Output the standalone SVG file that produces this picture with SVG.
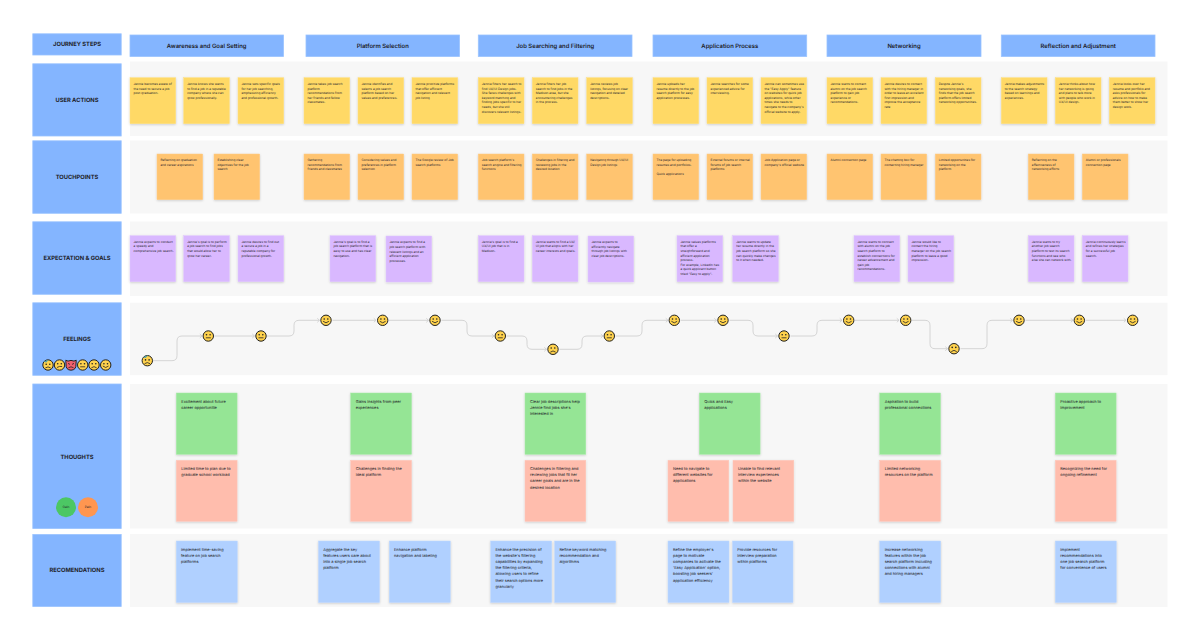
<svg xmlns="http://www.w3.org/2000/svg" width="1200" height="639" viewBox="0 0 1200 639">
<style>
text{font-family:"Inter","Liberation Sans",sans-serif;fill:#1e1e2a;text-rendering:geometricPrecision}
.lab{fill:#84B5FF;stroke:#9AC3FF;stroke-width:.8}
.row{fill:#F7F7F7}
.hd{font-size:5.9px;font-weight:600;text-anchor:middle}
.lt{font-size:5.75px;font-weight:700;text-anchor:middle}
.s{filter:url(#sh);stroke-width:.5}
.y{fill:#FFD966;stroke:#FFDF80}
.o{fill:#FFC470;stroke:#FFCC85}
.p{fill:#D9B8FF;stroke:#E0C5FF}
.g{fill:#95E595;stroke:#A8EBA8}
.r{fill:#FFBDAD;stroke:#FFC8BB}
.b{fill:#B0D0FF;stroke:#BDD8FF}
.t{font-size:3.15px}
.u{font-size:3.95px}
.c{font-size:3.2px;text-anchor:middle}
.cn path{fill:none;stroke:#CCCCCC;stroke-width:.8;marker-end:url(#ah)}
.f{fill:#FFD24D;stroke:#222;stroke-width:1}
.m{fill:none;stroke:#222;stroke-width:.8}
.e{fill:#222}
</style>
<defs>
<filter id="sh" x="-15%" y="-15%" width="130%" height="135%"><feDropShadow dx="0" dy="0.8" stdDeviation="0.9" flood-color="#000" flood-opacity="0.18"/></filter>
<marker id="ah" markerUnits="userSpaceOnUse" markerWidth="5" markerHeight="6" refX="3.2" refY="3" orient="auto"><path d="M1 1 L3.2 3 L1 5" fill="none" stroke="#CCCCCC" stroke-width=".8"/></marker>
<g id="happy"><circle class="f" r="5.2"/><circle class="e" cx="-1.8" cy="-1.3" r=".8"/><circle class="e" cx="1.8" cy="-1.3" r=".8"/><path class="m" d="M-2.9 1 Q0 4 2.9 1"/></g>
<g id="neutral"><circle class="f" r="5.2"/><circle class="e" cx="-1.8" cy="-1.3" r=".8"/><circle class="e" cx="1.8" cy="-1.3" r=".8"/><path class="m" d="M-2.5 1.8 H2.5"/></g>
<g id="sad"><circle class="f" r="5.2"/><circle class="e" cx="-1.8" cy="-1.3" r=".8"/><circle class="e" cx="1.8" cy="-1.3" r=".8"/><path class="m" d="M-2.7 2.9 Q0 .4 2.7 2.9"/></g>
<g id="worried"><circle class="f" r="5.2"/><circle class="e" cx="-1.8" cy="-.8" r=".8"/><circle class="e" cx="1.8" cy="-.8" r=".8"/><path class="m" d="M-2.7 3 Q0 .8 2.7 3"/><path d="M-4 -3.2 Q-1.5 -5.6 .6 -5 L-1.8 -2.6 Z" fill="#4FA3A8"/></g>
<g id="confused"><circle class="f" r="5.2"/><circle class="e" cx="-1.8" cy="-1.3" r=".8"/><circle class="e" cx="1.8" cy="-1.3" r=".8"/><path class="m" d="M-2.5 2.5 Q0 .9 2.6 1.5"/></g>
<g id="devil"><path class="f" style="fill:#F2606E" d="M-5.2 -4.8 L-3 -3.9 Q0 -5.3 3 -3.9 L5.2 -4.8 L5 -1 Q5.4 5 0 5.2 Q-5.4 5 -5 -1 Z"/><path class="m" d="M-3 -1.6 L-1 -.6 M3 -1.6 L1 -.6 M-2.6 2.8 Q0 .8 2.6 2.8"/></g>
</defs>
<rect width="1200" height="639" fill="#FFFFFF"/>
<g id="rows">
<rect class="row" x="130" y="61.5" width="1037.5" height="74.5"/>
<rect class="row" x="130" y="140.5" width="1037.5" height="73"/>
<rect class="row" x="130" y="221.5" width="1037.5" height="74.5"/>
<rect class="row" x="130" y="302.7" width="1037.5" height="72.5"/>
<rect class="row" x="130" y="384" width="1037.5" height="144.5"/>
<rect class="row" x="130" y="534" width="1037.5" height="73"/>
</g>
<g id="label-journey"><rect class="lab" x="32.8" y="33.8" width="88.4" height="21.2"/><text class="lt" x="77" y="46.4">JOURNEY STEPS</text></g>
<g id="label-actions"><rect class="lab" x="32.8" y="63.8" width="88.4" height="72.2"/><text class="lt" x="77" y="102">USER ACTIONS</text></g>
<g id="label-touch"><rect class="lab" x="32.8" y="140.8" width="88.4" height="72.5"/><text class="lt" x="77" y="179">TOUCHPOINTS</text></g>
<g id="label-expect"><rect class="lab" x="32.8" y="221.8" width="88.4" height="72.5"/><text class="lt" x="77" y="260">EXPECTATION &amp; GOALS</text></g>
<g id="label-feelings"><rect class="lab" x="32.8" y="302.8" width="88.4" height="72.5"/><text class="lt" x="77" y="341">FEELINGS</text>
<use href="#worried" x="48" y="365"/><use href="#confused" x="59.5" y="365"/><use href="#devil" x="71" y="365"/><use href="#neutral" x="82.7" y="365"/><use href="#sad" x="94" y="365"/><use href="#happy" x="105.7" y="365"/></g>
<g id="label-thoughts"><rect class="lab" x="32.8" y="384" width="88.4" height="144.5"/><text class="lt" x="77" y="458.6">THOUGHTS</text></g>
<g id="legend-gain"><circle cx="66" cy="507.3" r="10" fill="#4CC764"/><text class="c" x="66" y="508.4">Gain</text></g>
<g id="legend-pain"><circle cx="88" cy="507.3" r="10" fill="#FF9650"/><text class="c" x="88" y="508.4">Pain</text></g>
<g id="label-recs"><rect class="lab" x="32.8" y="534.5" width="88.4" height="72"/><text class="lt" x="77" y="572">RECOMENDATIONS</text></g>
<g id="step-1"><rect class="lab" x="130" y="35" width="153.5" height="21.5"/><text class="hd" x="206.7" y="48">Awareness and Goal Setting</text></g>
<g id="step-2"><rect class="lab" x="306" y="35" width="153.5" height="21.5"/><text class="hd" x="382.7" y="48">Platform Selection</text></g>
<g id="step-3"><rect class="lab" x="478.3" y="35" width="153.7" height="21.5"/><text class="hd" x="555.2" y="48">Job Searching and Filtering</text></g>
<g id="step-4"><rect class="lab" x="653" y="35" width="153.7" height="21.5"/><text class="hd" x="729.8" y="48">Application Process</text></g>
<g id="step-5"><rect class="lab" x="827" y="35" width="154" height="21.5"/><text class="hd" x="904" y="48">Networking</text></g>
<g id="step-6"><rect class="lab" x="1001.3" y="35" width="153.7" height="21.5"/><text class="hd" x="1078.2" y="48">Reflection and Adjustment</text></g>

<g id="action-1"><rect class="s y" x="130" y="77.7" width="45.7" height="46"/><text class="t" x="133.5" y="85">Jennie becomes aware of<tspan x="133.5" dy="4.6">the need to secure a job</tspan><tspan x="133.5" dy="4.6">post-graduation.</tspan></text></g>
<g id="action-2"><rect class="s y" x="183.7" y="77.7" width="45.7" height="46"/><text class="t" x="187.2" y="85">Jennie knows she wants<tspan x="187.2" dy="4.6">to find a job in a reputable</tspan><tspan x="187.2" dy="4.6">company where she can</tspan><tspan x="187.2" dy="4.6">grow professionally.</tspan></text></g>
<g id="action-3"><rect class="s y" x="238" y="77.7" width="45.7" height="46"/><text class="t" x="241.5" y="85">Jennie sets specific goals<tspan x="241.5" dy="4.6">for her job searching,</tspan><tspan x="241.5" dy="4.6">emphasizing efficiency</tspan><tspan x="241.5" dy="4.6">and professional growth.</tspan></text></g>
<g id="action-4"><rect class="s y" x="304" y="77.7" width="45.7" height="46"/><text class="t" x="307.5" y="85">Jennie takes job search<tspan x="307.5" dy="4.6">platform</tspan><tspan x="307.5" dy="4.6">recommendations from</tspan><tspan x="307.5" dy="4.6">her friends and fellow</tspan><tspan x="307.5" dy="4.6">classmates.</tspan></text></g>
<g id="action-5"><rect class="s y" x="358" y="77.7" width="45.7" height="46"/><text class="t" x="361.5" y="85">Jennie identifies and<tspan x="361.5" dy="4.6">selects a job search</tspan><tspan x="361.5" dy="4.6">platform based on her</tspan><tspan x="361.5" dy="4.6">values and preferences.</tspan></text></g>
<g id="action-6"><rect class="s y" x="412" y="77.7" width="45.7" height="46"/><text class="t" x="415.5" y="85">Jennie prioritize platforms<tspan x="415.5" dy="4.6">that offer efficient</tspan><tspan x="415.5" dy="4.6">navigation and relevant</tspan><tspan x="415.5" dy="4.6">job listing</tspan></text></g>
<g id="action-7"><rect class="s y" x="478.3" y="77.7" width="45.7" height="46"/><text class="t" x="481.8" y="85">Jennie filters her search to<tspan x="481.8" dy="4.6">find UX/UI Design jobs.</tspan><tspan x="481.8" dy="4.6">She faces challenges with</tspan><tspan x="481.8" dy="4.6">keyword matching and</tspan><tspan x="481.8" dy="4.6">finding jobs specific to her</tspan><tspan x="481.8" dy="4.6">needs, but she still</tspan><tspan x="481.8" dy="4.6">discovers relevant listings.</tspan></text></g>
<g id="action-8"><rect class="s y" x="532.3" y="77.7" width="45.7" height="46"/><text class="t" x="535.8" y="85">Jennie filters her job<tspan x="535.8" dy="4.6">search to find jobs in the</tspan><tspan x="535.8" dy="4.6">Madison area, but she</tspan><tspan x="535.8" dy="4.6">encountering challenges</tspan><tspan x="535.8" dy="4.6">in the process.</tspan></text></g>
<g id="action-9"><rect class="s y" x="586.7" y="77.7" width="45.7" height="46"/><text class="t" x="590.2" y="85">Jennie reviews job<tspan x="590.2" dy="4.6">listings, focusing on clear</tspan><tspan x="590.2" dy="4.6">navigation and detailed</tspan><tspan x="590.2" dy="4.6">descriptions.</tspan></text></g>
<g id="action-10"><rect class="s y" x="653" y="77.7" width="45.7" height="46"/><text class="t" x="656.5" y="85">Jennie uploads her<tspan x="656.5" dy="4.6">resume directly to the job</tspan><tspan x="656.5" dy="4.6">search platform for easy</tspan><tspan x="656.5" dy="4.6">application processes.</tspan></text></g>
<g id="action-11"><rect class="s y" x="707" y="77.7" width="45.7" height="46"/><text class="t" x="710.5" y="85">Jennie searches for some<tspan x="710.5" dy="4.6">experienced advice for</tspan><tspan x="710.5" dy="4.6">interviewing.</tspan></text></g>
<g id="action-12"><rect class="s y" x="761" y="77.7" width="45.7" height="46"/><text class="t" x="764.5" y="85">Jennie can sometimes use<tspan x="764.5" dy="4.6">the "Easy Apply" feature</tspan><tspan x="764.5" dy="4.6">on websites for quick job</tspan><tspan x="764.5" dy="4.6">applications, while other</tspan><tspan x="764.5" dy="4.6">times she needs to</tspan><tspan x="764.5" dy="4.6">navigate to the company's</tspan><tspan x="764.5" dy="4.6">official website to apply.</tspan></text></g>
<g id="action-13"><rect class="s y" x="827" y="77.7" width="45.7" height="46"/><text class="t" x="830.5" y="85">Jennie wants to contact<tspan x="830.5" dy="4.6">alumni on the job search</tspan><tspan x="830.5" dy="4.6">platform to gain job</tspan><tspan x="830.5" dy="4.6">experience or</tspan><tspan x="830.5" dy="4.6">recommendations.</tspan></text></g>
<g id="action-14"><rect class="s y" x="881" y="77.7" width="45.7" height="46"/><text class="t" x="884.5" y="85">Jennie desires to contact<tspan x="884.5" dy="4.6">with the hiring manager in</tspan><tspan x="884.5" dy="4.6">order to leave an excellent</tspan><tspan x="884.5" dy="4.6">first impression and</tspan><tspan x="884.5" dy="4.6">improve the acceptance</tspan><tspan x="884.5" dy="4.6">rate</tspan></text></g>
<g id="action-15"><rect class="s y" x="935.3" y="77.7" width="45.7" height="46"/><text class="t" x="938.8" y="85">Despite Jennie's<tspan x="938.8" dy="4.6">networking goals, she</tspan><tspan x="938.8" dy="4.6">finds that the job search</tspan><tspan x="938.8" dy="4.6">platform offers limited</tspan><tspan x="938.8" dy="4.6">networking opportunities.</tspan></text></g>
<g id="action-16"><rect class="s y" x="1001.3" y="77.7" width="45.7" height="46"/><text class="t" x="1004.8" y="85">Jennie makes adjustments<tspan x="1004.8" dy="4.6">to the search strategy</tspan><tspan x="1004.8" dy="4.6">based on learnings and</tspan><tspan x="1004.8" dy="4.6">experiences.</tspan></text></g>
<g id="action-17"><rect class="s y" x="1055.3" y="77.7" width="45.7" height="46"/><text class="t" x="1058.8" y="85">Jennie thinks about how<tspan x="1058.8" dy="4.6">her networking is going</tspan><tspan x="1058.8" dy="4.6">and plans to talk more</tspan><tspan x="1058.8" dy="4.6">with people who work in</tspan><tspan x="1058.8" dy="4.6">UX/UI design.</tspan></text></g>
<g id="action-18"><rect class="s y" x="1109.3" y="77.7" width="45.7" height="46"/><text class="t" x="1112.8" y="85">Jennie looks over her<tspan x="1112.8" dy="4.6">resume and portfolio and</tspan><tspan x="1112.8" dy="4.6">asks professionals for</tspan><tspan x="1112.8" dy="4.6">advice on how to make</tspan><tspan x="1112.8" dy="4.6">them better to show her</tspan><tspan x="1112.8" dy="4.6">design work.</tspan></text></g>

<g id="touch-1"><rect class="s o" x="157" y="154" width="45.7" height="45.7"/><text class="t" x="160.5" y="161">Reflecting on graduation<tspan x="160.5" dy="4.6">and career aspirations</tspan></text></g>
<g id="touch-2"><rect class="s o" x="214" y="154" width="45.7" height="45.7"/><text class="t" x="217.5" y="161">Establishing clear<tspan x="217.5" dy="4.6">objectives for the job</tspan><tspan x="217.5" dy="4.6">search</tspan></text></g>
<g id="touch-3"><rect class="s o" x="304" y="154" width="45.7" height="45.7"/><text class="t" x="307.5" y="161">Gathering<tspan x="307.5" dy="4.6">recommendations from</tspan><tspan x="307.5" dy="4.6">friends and classmates</tspan></text></g>
<g id="touch-4"><rect class="s o" x="358" y="154" width="45.7" height="45.7"/><text class="t" x="361.5" y="161">Considering values and<tspan x="361.5" dy="4.6">preferences in platform</tspan><tspan x="361.5" dy="4.6">selection</tspan></text></g>
<g id="touch-5"><rect class="s o" x="412" y="154" width="45.7" height="45.7"/><text class="t" x="415.5" y="161">The Google review of Job<tspan x="415.5" dy="4.6">search platforms</tspan></text></g>
<g id="touch-6"><rect class="s o" x="478.3" y="154" width="45.7" height="45.7"/><text class="t" x="481.8" y="161">Job search platform's<tspan x="481.8" dy="4.6">search engine and filtering</tspan><tspan x="481.8" dy="4.6">functions</tspan></text></g>
<g id="touch-7"><rect class="s o" x="532.3" y="154" width="45.7" height="45.7"/><text class="t" x="535.8" y="161">Challenges in filtering and<tspan x="535.8" dy="4.6">reviewing jobs in the</tspan><tspan x="535.8" dy="4.6">desired location</tspan></text></g>
<g id="touch-8"><rect class="s o" x="586.7" y="154" width="45.7" height="45.7"/><text class="t" x="590.2" y="161">Navigating through UX/UI<tspan x="590.2" dy="4.6">Design job listings</tspan></text></g>
<g id="touch-9"><rect class="s o" x="653" y="154" width="45.7" height="45.7"/><text class="t" x="656.5" y="161">The page for uploading<tspan x="656.5" dy="4.6">resumes and portfolios.</tspan><tspan x="656.5" dy="9.2">Quick applications</tspan></text></g>
<g id="touch-10"><rect class="s o" x="707" y="154" width="45.7" height="45.7"/><text class="t" x="710.5" y="161">External forums or internal<tspan x="710.5" dy="4.6">forums of job search</tspan><tspan x="710.5" dy="4.6">platforms</tspan></text></g>
<g id="touch-11"><rect class="s o" x="761" y="154" width="45.7" height="45.7"/><text class="t" x="764.5" y="161">Job Application page or<tspan x="764.5" dy="4.6">company's official website</tspan></text></g>
<g id="touch-12"><rect class="s o" x="827" y="154" width="45.7" height="45.7"/><text class="t" x="830.5" y="161">Alumni connection page</text></g>
<g id="touch-13"><rect class="s o" x="881" y="154" width="45.7" height="45.7"/><text class="t" x="884.5" y="161">The chatting box for<tspan x="884.5" dy="4.6">contacting hiring manager</tspan></text></g>
<g id="touch-14"><rect class="s o" x="935.3" y="154" width="45.7" height="45.7"/><text class="t" x="938.8" y="161">Limited opportunities for<tspan x="938.8" dy="4.6">networking on the</tspan><tspan x="938.8" dy="4.6">platform</tspan></text></g>
<g id="touch-15"><rect class="s o" x="1028.3" y="154" width="45.7" height="45.7"/><text class="t" x="1031.8" y="161">Reflecting on the<tspan x="1031.8" dy="4.6">effectiveness of</tspan><tspan x="1031.8" dy="4.6">networking efforts</tspan></text></g>
<g id="touch-16"><rect class="s o" x="1082.3" y="154" width="45.7" height="45.7"/><text class="t" x="1085.8" y="161">Alumni or professionals<tspan x="1085.8" dy="4.6">connection page</tspan></text></g>

<g id="goal-1"><rect class="s p" x="130" y="235.7" width="45.7" height="46"/><text class="t" x="133.5" y="242.8">Jennie expects to conduct<tspan x="133.5" dy="4.6">a speedy and</tspan><tspan x="133.5" dy="4.6">comprehensive job search.</tspan></text></g>
<g id="goal-2"><rect class="s p" x="183.7" y="235.7" width="45.7" height="46"/><text class="t" x="187.2" y="242.8">Jennie's goal is to perform<tspan x="187.2" dy="4.6">a job search to find jobs</tspan><tspan x="187.2" dy="4.6">that would allow her to</tspan><tspan x="187.2" dy="4.6">grow her career.</tspan></text></g>
<g id="goal-3"><rect class="s p" x="238" y="235.7" width="45.7" height="46"/><text class="t" x="241.5" y="242.8">Jennie desires to find out<tspan x="241.5" dy="4.6">a secure a job in a</tspan><tspan x="241.5" dy="4.6">reputable company for</tspan><tspan x="241.5" dy="4.6">professional growth.</tspan></text></g>
<g id="goal-4"><rect class="s p" x="330" y="235.7" width="45.7" height="46"/><text class="t" x="333.5" y="242.8">Jennie's goal is to find a<tspan x="333.5" dy="4.6">job search platform that is</tspan><tspan x="333.5" dy="4.6">easy to use and has clear</tspan><tspan x="333.5" dy="4.6">navigation.</tspan></text></g>
<g id="goal-5"><rect class="s p" x="386" y="236" width="45.7" height="46"/><text class="t" x="389.5" y="243.4">Jennie expects to find a<tspan x="389.5" dy="4.6">job search platform with</tspan><tspan x="389.5" dy="4.6">relevant listings and an</tspan><tspan x="389.5" dy="4.6">efficient application</tspan><tspan x="389.5" dy="4.6">processes.</tspan></text></g>
<g id="goal-6"><rect class="s p" x="478.3" y="235.7" width="45.7" height="46"/><text class="t" x="481.8" y="242.8">Jennie's goal is to find a<tspan x="481.8" dy="4.6">UX/UI job that is in</tspan><tspan x="481.8" dy="4.6">Madison.</tspan></text></g>
<g id="goal-7"><rect class="s p" x="532.3" y="235.7" width="45.7" height="46"/><text class="t" x="535.8" y="242.8">Jennie wants to find a UX/<tspan x="535.8" dy="4.6">UI job that aligns with her</tspan><tspan x="535.8" dy="4.6">career interests and goals.</tspan></text></g>
<g id="goal-8"><rect class="s p" x="588" y="236" width="45.7" height="46"/><text class="t" x="591.5" y="243">Jennie expects to<tspan x="591.5" dy="4.6">efficiently navigate</tspan><tspan x="591.5" dy="4.6">through job listings with</tspan><tspan x="591.5" dy="4.6">clear job descriptions.</tspan></text></g>
<g id="goal-9"><rect class="s p" x="677" y="235.7" width="45.7" height="46"/><text class="t" x="680.5" y="242.8">Jennie values platforms<tspan x="680.5" dy="4.6">that offer a</tspan><tspan x="680.5" dy="4.6">straightforward and</tspan><tspan x="680.5" dy="4.6">efficient application</tspan><tspan x="680.5" dy="4.6">process.</tspan><tspan x="680.5" dy="4.6">For example, LinkedIn has</tspan><tspan x="680.5" dy="4.6">a quick applicant button</tspan><tspan x="680.5" dy="4.6">titled "Easy to apply".</tspan></text></g>
<g id="goal-10"><rect class="s p" x="732.7" y="235.7" width="45.7" height="46"/><text class="t" x="736.2" y="242.8">Jennie wants to update<tspan x="736.2" dy="4.6">her resume directly in the</tspan><tspan x="736.2" dy="4.6">job search platform so she</tspan><tspan x="736.2" dy="4.6">can quickly make changes</tspan><tspan x="736.2" dy="4.6">to it when needed.</tspan></text></g>
<g id="goal-11"><rect class="s p" x="854" y="235.7" width="45.7" height="46"/><text class="t" x="857.5" y="242.8">Jennie wants to connect<tspan x="857.5" dy="4.6">with alumni on the job</tspan><tspan x="857.5" dy="4.6">search platform to</tspan><tspan x="857.5" dy="4.6">establish connections for</tspan><tspan x="857.5" dy="4.6">career advancement and</tspan><tspan x="857.5" dy="4.6">gain job</tspan><tspan x="857.5" dy="4.6">recommendations.</tspan></text></g>
<g id="goal-12"><rect class="s p" x="908" y="235.7" width="45.7" height="46"/><text class="t" x="911.5" y="242.8">Jennie would like to<tspan x="911.5" dy="4.6">contact the hiring</tspan><tspan x="911.5" dy="4.6">manager on the job search</tspan><tspan x="911.5" dy="4.6">platform to leave a good</tspan><tspan x="911.5" dy="4.6">impression.</tspan></text></g>
<g id="goal-13"><rect class="s p" x="1028.3" y="235.7" width="45.7" height="46"/><text class="t" x="1031.8" y="242.8">Jennie wants to try<tspan x="1031.8" dy="4.6">another job search</tspan><tspan x="1031.8" dy="4.6">platform to test its search</tspan><tspan x="1031.8" dy="4.6">functions and see who</tspan><tspan x="1031.8" dy="4.6">else she can network with.</tspan></text></g>
<g id="goal-14"><rect class="s p" x="1082.3" y="235.7" width="45.7" height="46"/><text class="t" x="1085.8" y="242.8">Jennie continuously learns<tspan x="1085.8" dy="4.6">and refines her strategies</tspan><tspan x="1085.8" dy="4.6">for a successful job</tspan><tspan x="1085.8" dy="4.6">search.</tspan></text></g>

<g id="connectors" class="cn">
<path d="M153 360.7 H172 Q177 360.7 177 355.7 V341 Q177 336 182 336 H202"/>
<path d="M214.5 336 H254.5"/>
<path d="M267 336 H289 Q294 336 294 331 V325.3 Q294 320.3 299 320.3 H319.5"/>
<path d="M332.5 320.3 H376"/>
<path d="M389 320.3 H428.5"/>
<path d="M441.5 320.3 H462 Q467 320.3 467 325.3 V331 Q467 336 472 336 H494"/>
<path d="M506.5 336 H522 Q527 336 527 341 V344.3 Q527 349.3 532 349.3 H546.5"/>
<path d="M559.5 349.3 H577 Q582 349.3 582 344.3 V341 Q582 336 587 336 H603"/>
<path d="M615.5 336 H637 Q642 336 642 331 V325.3 Q642 320.3 647 320.3 H668"/>
<path d="M680.5 320.3 H716.5"/>
<path d="M729.5 320.3 H748 Q753 320.3 753 325.3 V331 Q753 336 758 336 H777.5"/>
<path d="M790.5 336 H812 Q817 336 817 331 V325.3 Q817 320.3 822 320.3 H842"/>
<path d="M855 320.3 H899"/>
<path d="M912 320.3 H925 Q930 320.3 930 325.3 V343.7 Q930 348.7 935 348.7 H947.5"/>
<path d="M960.5 348.7 H982 Q987 348.7 987 343.7 V325.3 Q987 320.3 992 320.3 H1012.5"/>
<path d="M1025.5 320.3 H1073"/>
<path d="M1085.5 320.3 H1126"/>
</g>
<g id="feel-1"><use href="#worried" x="147.3" y="360.7"/></g>
<g id="feel-2"><use href="#neutral" x="208.3" y="336"/></g>
<g id="feel-3"><use href="#neutral" x="261" y="336"/></g>
<g id="feel-4"><use href="#happy" x="326" y="320.3"/></g>
<g id="feel-5"><use href="#happy" x="382.7" y="320.3"/></g>
<g id="feel-6"><use href="#happy" x="435" y="320.3"/></g>
<g id="feel-7"><use href="#neutral" x="500.3" y="336"/></g>
<g id="feel-8"><use href="#sad" x="553" y="349.3"/></g>
<g id="feel-9"><use href="#neutral" x="609.3" y="336"/></g>
<g id="feel-10"><use href="#happy" x="674.3" y="320.3"/></g>
<g id="feel-11"><use href="#happy" x="723" y="320.3"/></g>
<g id="feel-12"><use href="#neutral" x="784" y="336"/></g>
<g id="feel-13"><use href="#happy" x="848.7" y="320.3"/></g>
<g id="feel-14"><use href="#happy" x="905.7" y="320.3"/></g>
<g id="feel-15"><use href="#sad" x="954" y="348.7"/></g>
<g id="feel-16"><use href="#happy" x="1019" y="320.3"/></g>
<g id="feel-17"><use href="#happy" x="1079.3" y="320.3"/></g>
<g id="feel-18"><use href="#happy" x="1132.7" y="320.3"/></g>

<g id="gain-1"><rect class="s g" x="176.3" y="393" width="60.8" height="61.3"/><text class="u" x="181.3" y="402.8">Excitement about future<tspan x="181.3" dy="6.2">career opportunitie</tspan></text></g>
<g id="gain-2"><rect class="s g" x="350.7" y="393" width="60.8" height="61.3"/><text class="u" x="355.7" y="402.8">Gains insights from peer<tspan x="355.7" dy="6.2">experiences</tspan></text></g>
<g id="gain-3"><rect class="s g" x="525" y="393" width="60.8" height="61.3"/><text class="u" x="530" y="402.8">Clear job descriptions help<tspan x="530" dy="6.2">Jennie find jobs she's</tspan><tspan x="530" dy="6.2">interested in</tspan></text></g>
<g id="gain-4"><rect class="s g" x="699.3" y="393" width="60.8" height="61.3"/><text class="u" x="704.3" y="402.8">Quick and Easy<tspan x="704.3" dy="6.2">applications</tspan></text></g>
<g id="gain-5"><rect class="s g" x="879.7" y="393" width="60.8" height="61.3"/><text class="u" x="884.7" y="402.8">Aspiration to build<tspan x="884.7" dy="6.2">professional connections</tspan></text></g>
<g id="gain-6"><rect class="s g" x="1055.3" y="393" width="60.8" height="61.3"/><text class="u" x="1060.3" y="402.8">Proactive approach to<tspan x="1060.3" dy="6.2">improvement</tspan></text></g>
<g id="pain-1"><rect class="s r" x="176.3" y="460.3" width="60.8" height="61"/><text class="u" x="181.3" y="470">Limited time to plan due to<tspan x="181.3" dy="6.2">graduate school workload</tspan></text></g>
<g id="pain-2"><rect class="s r" x="350.7" y="460.3" width="60.8" height="61"/><text class="u" x="355.7" y="470">Challenges in finding the<tspan x="355.7" dy="6.2">ideal platform</tspan></text></g>
<g id="pain-3"><rect class="s r" x="525" y="460.3" width="60.8" height="61"/><text class="u" x="530" y="470">Challenges in filtering and<tspan x="530" dy="6.2">reviewing jobs that fit her</tspan><tspan x="530" dy="6.2">career goals and are in the</tspan><tspan x="530" dy="6.2">desired location</tspan></text></g>
<g id="pain-4"><rect class="s r" x="668" y="460.3" width="60.8" height="61"/><text class="u" x="673" y="470">Need to navigate to<tspan x="673" dy="6.2">different websites for</tspan><tspan x="673" dy="6.2">applications</tspan></text></g>
<g id="pain-5"><rect class="s r" x="733" y="460.3" width="60.8" height="61"/><text class="u" x="738" y="470">Unable to find relevant<tspan x="738" dy="6.2">interview experiences</tspan><tspan x="738" dy="6.2">within the website</tspan></text></g>
<g id="pain-6"><rect class="s r" x="879.7" y="460.3" width="60.8" height="61"/><text class="u" x="884.7" y="470">Limited networking<tspan x="884.7" dy="6.2">resources on the platform</tspan></text></g>
<g id="pain-7"><rect class="s r" x="1055.3" y="460.3" width="60.8" height="61"/><text class="u" x="1060.3" y="470">Recognizing the need for<tspan x="1060.3" dy="6.2">ongoing refinement</tspan></text></g>

<g id="rec-1"><rect class="s b" x="176.3" y="541" width="61" height="61.5"/><text class="u" x="181" y="550.5">Implement time-saving<tspan x="181" dy="6.2">feature on job search</tspan><tspan x="181" dy="6.2">platforms</tspan></text></g>
<g id="rec-2"><rect class="s b" x="318.5" y="541" width="61" height="61.5"/><text class="u" x="323.2" y="550.5">Aggregate the key<tspan x="323.2" dy="6.2">features users care about</tspan><tspan x="323.2" dy="6.2">into a single job search</tspan><tspan x="323.2" dy="6.2">platform</tspan></text></g>
<g id="rec-3"><rect class="s b" x="389.3" y="541" width="61" height="61.5"/><text class="u" x="394" y="550.5">Enhance platform<tspan x="394" dy="6.2">navigation and labeling</tspan></text></g>
<g id="rec-4"><rect class="s b" x="490.7" y="541" width="61" height="61.5"/><text class="u" x="495.4" y="550.5">Enhance the precision of<tspan x="495.4" dy="6.2">the website's filtering</tspan><tspan x="495.4" dy="6.2">capabilities by expanding</tspan><tspan x="495.4" dy="6.2">the filtering criteria,</tspan><tspan x="495.4" dy="6.2">allowing users to refine</tspan><tspan x="495.4" dy="6.2">their search options more</tspan><tspan x="495.4" dy="6.2">granularly</tspan></text></g>
<g id="rec-5"><rect class="s b" x="554.7" y="541" width="61" height="61.5"/><text class="u" x="559.4" y="550.5">Refine keyword matching<tspan x="559.4" dy="6.2">recommendation and</tspan><tspan x="559.4" dy="6.2">algorithms</tspan></text></g>
<g id="rec-6"><rect class="s b" x="668" y="541" width="61" height="61.5"/><text class="u" x="673" y="550.5">Refine the employer's<tspan x="673" dy="6.2">page to motivate</tspan><tspan x="673" dy="6.2">companies to activate the</tspan><tspan x="673" dy="6.2">'Easy Application' option,</tspan><tspan x="673" dy="6.2">boosting job seekers'</tspan><tspan x="673" dy="6.2">application efficiency</tspan></text></g>
<g id="rec-7"><rect class="s b" x="732.5" y="541" width="60.5" height="61.5"/><text class="u" x="737.2" y="550.5">Provide resources for<tspan x="737.2" dy="6.2">interview preparation</tspan><tspan x="737.2" dy="6.2">within platforms</tspan></text></g>
<g id="rec-8"><rect class="s b" x="879.7" y="541" width="61" height="61.5"/><text class="u" x="884.7" y="550.5">Increase networking<tspan x="884.7" dy="6.2">features within the job</tspan><tspan x="884.7" dy="6.2">search platform including</tspan><tspan x="884.7" dy="6.2">connections with alumni</tspan><tspan x="884.7" dy="6.2">and hiring managers</tspan></text></g>
<g id="rec-9"><rect class="s b" x="1055.3" y="541" width="61" height="61.5"/><text class="u" x="1060.3" y="550.5">Implement<tspan x="1060.3" dy="6.2">recommendations into</tspan><tspan x="1060.3" dy="6.2">one job search platform</tspan><tspan x="1060.3" dy="6.2">for convenience of users</tspan></text></g>
</svg>
